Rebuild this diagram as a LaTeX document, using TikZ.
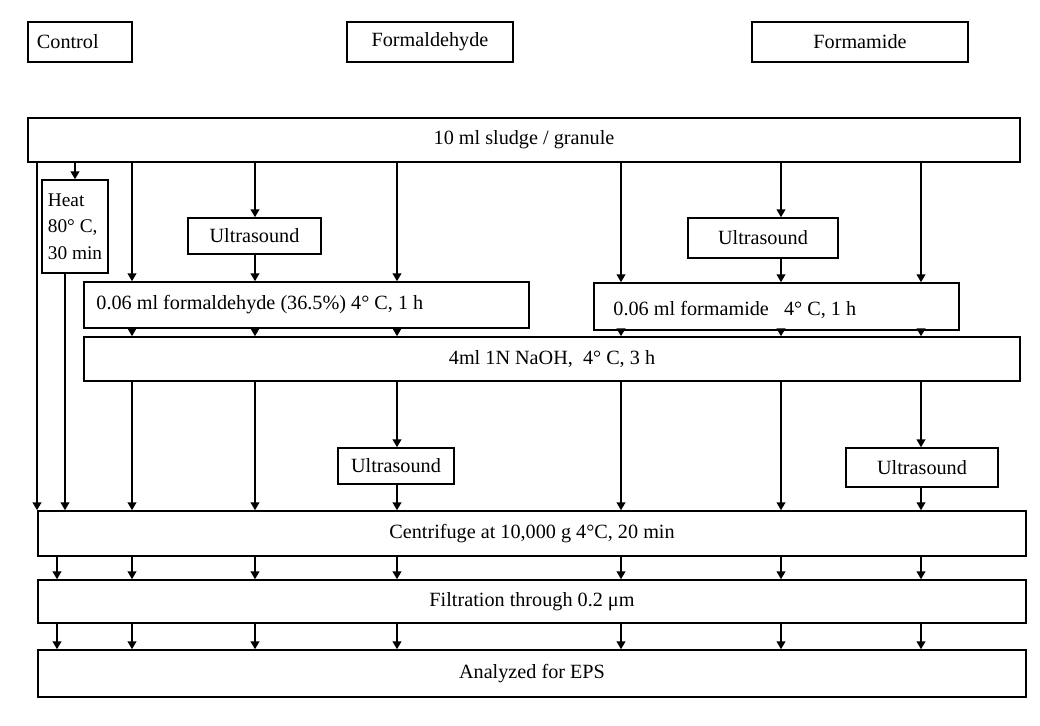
\documentclass[tikz,border=0pt]{standalone}
\usepackage{fontspec}
\setmainfont{Liberation Serif}
\usetikzlibrary{arrows.meta}
\begin{document}
\begin{tikzpicture}[x=0.02cm,y=-0.02cm,
  box/.style={draw,line width=0.9pt,inner sep=0pt},
  txt/.style={font=\fontsize{11.5}{13}\selectfont},
  arr/.style={line width=0.9pt,-{Triangle[length=4.5pt,width=5pt]}}]
\useasboundingbox (0,0) rectangle (1040,725);
\newcommand{\bx}[6]{\node[box,minimum width={(#4-#2)*0.02cm},minimum height={(#5-#3)*0.02cm},#6] (#1) at ({(#2+#4)/2},{(#3+#5)/2}) {};}
\bx{ctl}{28}{22}{132}{62}{}
\node[txt,anchor=west] at ([xshift=2pt]ctl.west) {Control};
\bx{fa}{347}{22}{513}{62}{}
\node[txt] at (fa) {Formaldehyde};
\bx{fm}{752}{22}{968}{62}{}
\node[txt] at (fm) {Formamide};
\bx{top}{28}{118}{1020}{162}{}
\node[txt] at (top) {10 ml sludge / granule};
\bx{heat}{42}{180}{108}{273}{}
\node[txt,align=left,inner sep=1pt,font=\fontsize{11}{15}\selectfont] at (heat) {Heat\\ 80° C,\\30 min};
\bx{us1}{188}{218}{321}{254}{}
\node[txt] at (us1) {Ultrasound};
\bx{us2}{688}{218}{838}{258}{}
\node[txt] at (us2) {Ultrasound};
\bx{fbox}{84}{282}{529}{328}{}
\node[txt,anchor=west] at ([xshift=4pt]fbox.west) {0.06 ml formaldehyde (36.5\%) 4° C, 1 h};
\bx{mbox}{594}{283}{959}{330}{}
\node[txt,anchor=west] at ([xshift=8pt,yshift=-2pt]mbox.west) {0.06 ml formamide~~ 4° C, 1 h};
\bx{naoh}{84}{337}{1020}{381}{}
\node[txt] at (naoh) {4ml 1N NaOH,~ 4° C, 3 h};
\bx{us3}{338}{448}{454}{484}{}
\node[txt] at (us3) {Ultrasound};
\bx{us4}{846}{448}{998}{487}{}
\node[txt] at (us4) {Ultrasound};
\bx{cen}{38}{511}{1026}{556}{}
\node[txt] at (cen) {Centrifuge at 10,000 g 4°C, 20 min};
\bx{fil}{38}{580}{1026}{623}{}
\node[txt] at (fil) {Filtration through 0.2 μm};
\bx{ana}{38}{650}{1026}{697}{}
\node[txt] at (ana) {Analyzed for EPS};
\foreach \x in {37,57,65,75,132,255,397,621,781,921} \coordinate (c\x) at (\x,0);
\draw[arr] (top.south -| c37) -- (cen.north -| c37);
\draw[arr] (top.south -| c75) -- (heat.north -| c75);
\draw[arr] (heat.south -| c65) -- (cen.north -| c65);
\draw[arr] (top.south -| c132) -- (fbox.north -| c132);
\draw[arr] (top.south -| c255) -- (us1.north -| c255);
\draw[arr] (us1.south -| c255) -- (fbox.north -| c255);
\draw[arr] (top.south -| c397) -- (fbox.north -| c397);
\draw[arr] (top.south -| c621) -- (mbox.north -| c621);
\draw[arr] (top.south -| c781) -- (us2.north -| c781);
\draw[arr] (us2.south -| c781) -- (mbox.north -| c781);
\draw[arr] (top.south -| c921) -- (mbox.north -| c921);
\foreach \x in {132,255,397} \draw[arr] (fbox.south -| c\x) -- (naoh.north -| c\x);
\foreach \x in {621,781,921} \draw[arr] (mbox.south -| c\x) -- (naoh.north -| c\x);
\foreach \x in {132,255,621,781} \draw[arr] (naoh.south -| c\x) -- (cen.north -| c\x);
\draw[arr] (naoh.south -| c397) -- (us3.north -| c397);
\draw[arr] (us3.south -| c397) -- (cen.north -| c397);
\draw[arr] (naoh.south -| c921) -- (us4.north -| c921);
\draw[arr] (us4.south -| c921) -- (cen.north -| c921);
\foreach \x in {57,132,255,397,621,781,921} {
  \draw[arr] (cen.south -| c\x) -- (fil.north -| c\x);
  \draw[arr] (fil.south -| c\x) -- (ana.north -| c\x);}
\end{tikzpicture}
\end{document}
